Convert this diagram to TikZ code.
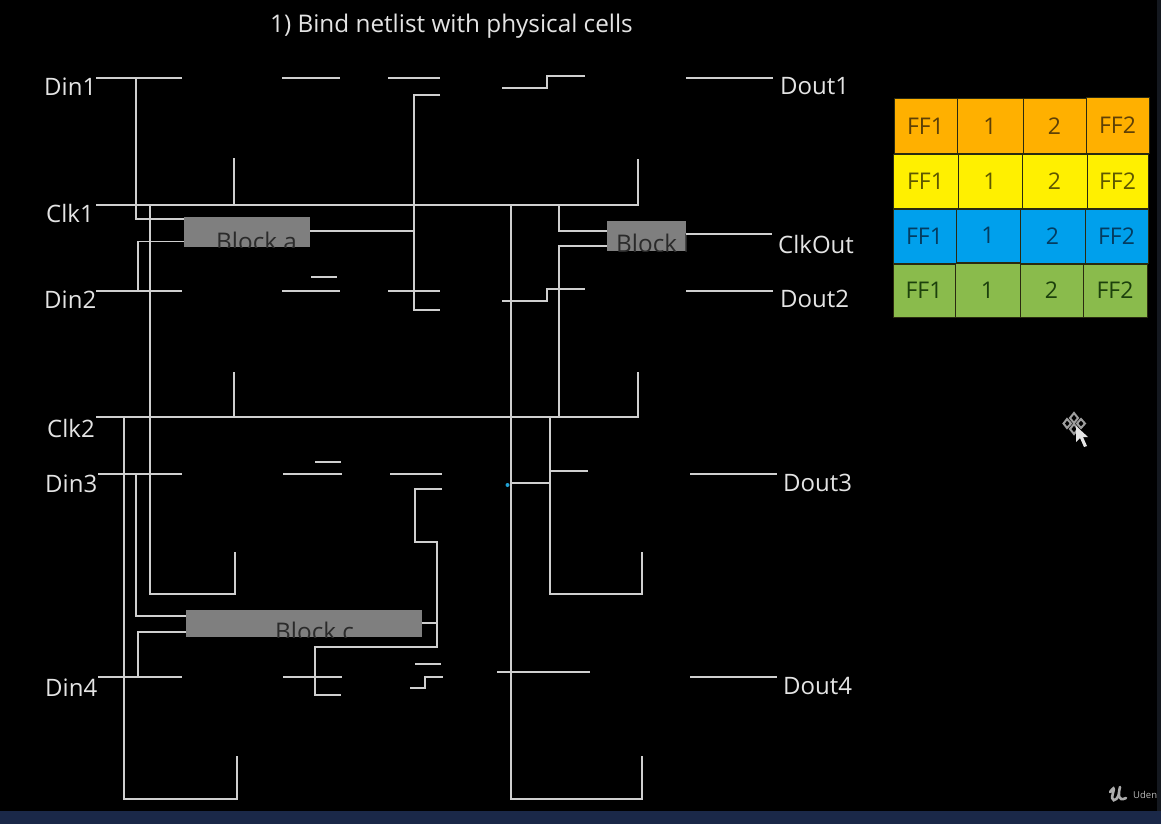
\documentclass[tikz,border=0pt]{standalone}
\usepackage{fontspec}
\setmainfont{Open Sans}
\tikzset{
  wire/.style={draw=wirecol,line width=1.7pt},
  lab/.style={text=labcol,font=\fontsize{24}{26}\selectfont,inner sep=0pt,anchor=base west},
  block/.style={fill=blockcol,draw=none,inner sep=0pt,anchor=north west},
  blocktext/.style={text=blocktxt,font=\fontsize{24.3}{26}\selectfont,inner sep=0pt,anchor=base west},
  cell/.style={draw=cellline,line width=1pt,inner sep=0pt,text=#1,font=\fontsize{23}{25}\selectfont},
}
\definecolor{wirecol}{HTML}{CFCFCF}
\definecolor{labcol}{HTML}{E4E4E4}
\definecolor{blockcol}{HTML}{7F7F7F}
\definecolor{blocktxt}{HTML}{2A2A2A}
\definecolor{cellline}{HTML}{2A2A10}
\definecolor{oran}{HTML}{FFB000}
\definecolor{yell}{HTML}{FFF000}
\definecolor{blu}{HTML}{00A0EC}
\definecolor{gree}{HTML}{8ABB4C}
\definecolor{orant}{HTML}{5E4006}
\definecolor{yellt}{HTML}{5E5800}
\definecolor{blut}{HTML}{043C60}
\definecolor{greet}{HTML}{1C400C}
\definecolor{barcol}{HTML}{1A2848}
\definecolor{stripcol}{HTML}{14181F}
% \cellbox{name}{x0}{y0}{x1}{y1}{text}{fill}{textcolour}
\newcommand{\cellbox}[8]{%
  \pgfmathsetlengthmacro{\cw}{#4-#2}\pgfmathsetlengthmacro{\ch}{#5-#3}%
  \node[cell=#8,fill=#7,minimum width=\cw,minimum height=\ch] (#1) at ({(#2+#4)/2},{(#3+#5)/2}) {#6};}
\begin{document}
\begin{tikzpicture}[x=1pt,y=-1pt]
\useasboundingbox (0,0) rectangle (1161,824);
\fill[black] (0,0) rectangle (1161,824);
\fill[stripcol] (1157,0) rectangle (1161,811);
\fill[barcol] (0,811) rectangle (1161,824);

% title and labels
\node[lab,font=\fontsize{24.3}{26}\selectfont] (title) at (270,33) {1) Bind netlist with physical cells};
\node[lab] (din1) at (44,96) {Din1};
\node[lab] (clk1) at (46,222) {Clk1};
\node[lab] (din2) at (44,308) {Din2};
\node[lab] (clk2) at (47,437) {Clk2};
\node[lab] (din3) at (45,492) {Din3};
\node[lab] (din4) at (45,696) {Din4};
\node[lab] (dout1) at (780,95) {Dout1};
\node[lab] (clkout) at (778,253) {ClkOut};
\node[lab] (dout2) at (780,307) {Dout2};
\node[lab] (dout3) at (783,491) {Dout3};
\node[lab] (dout4) at (783,694) {Dout4};

% blocks, their text cut by the box
\node[block,minimum width=126pt,minimum height=30pt] (blocka) at (184,217) {};
\node[block,minimum width=79pt,minimum height=30pt] (blockb) at (607,221) {};
\node[block,minimum width=236pt,minimum height=27pt] (blockc) at (186,610) {};
\begin{scope}
  \clip (blocka.north west) rectangle (blocka.south east);
  \node[blocktext] (ta) at (216,250) {Block a};
\end{scope}
\begin{scope}
  \clip (blockb.north west) rectangle (blockb.south east);
  \node[blocktext] (tb) at (616,252.5) {Block b};
\end{scope}
\begin{scope}
  \clip (blockc.north west) rectangle (blockc.south east);
  \node[blocktext] (tc) at (275,640) {Block c};
\end{scope}

% row 1
\draw[wire] (96,78) -- (182,78);
\draw[wire] (282,78) -- (340,78);
\draw[wire] (388,78) -- (440,78);
\draw[wire] (502,88) -- (547,88) -- (547,76) -- (585,76);
\draw[wire] (686,78) -- (773,78);
% row 2
\draw[wire] (96,291) -- (182,291);
\draw[wire] (282,291) -- (340,291);
\draw[wire] (311,277) -- (337,277);
\draw[wire] (388,291) -- (440,291);
\draw[wire] (502,301) -- (547,301) -- (547,289) -- (585,289);
\draw[wire] (686,291) -- (773,291);
% row 3
\draw[wire] (98,474) -- (182,474);
\draw[wire] (283,474) -- (342,474);
\draw[wire] (315,462) -- (341,462);
\draw[wire] (390,474) -- (442,474);
\draw[wire] (550,471) -- (588,471);
\draw[wire] (511,483) -- (550,483);
\draw[wire] (690,474) -- (777,474);
% row 4
\draw[wire] (98,677) -- (182,677);
\draw[wire] (283,677) -- (342,677);
\draw[wire] (415,664) -- (441,664);
\draw[wire] (410,688) -- (425,688) -- (425,677) -- (443,677);
\draw[wire] (497,672) -- (590,672);
\draw[wire] (690,677) -- (777,677);

% clock trees
\draw[wire] (234,158) -- (234,205);
\draw[wire] (96,205) -- (638,205) -- (638,159);
\draw[wire] (234,372) -- (234,417);
\draw[wire] (96,417) -- (638,417) -- (638,372);

% block a connections
\draw[wire] (136,78) -- (136,219) -- (blocka.west |- 136,219);
\draw[wire] (138,291) -- (138,241.5) -- (blocka.west |- 138,241.5);
\draw[wire] (blocka.east |- 312,231) -- (414,231);
\draw[wire] (440,95) -- (414,95) -- (414,310) -- (440,310);
% block b connections
\draw[wire] (559,205) -- (559,231) -- (blockb.west |- 559,231);
\draw[wire] (559,417) -- (559,246) -- (blockb.west |- 559,246);
\draw[wire] (blockb.east |- 686,234) -- (772,234);
% block c connections
\draw[wire] (136,474) -- (136,616) -- (blockc.west |- 136,616);
\draw[wire] (138,677) -- (138,632) -- (blockc.west |- 138,632);
\draw[wire] (blockc.east |- 422,623) -- (437,623);
\draw[wire] (442,489) -- (415,489) -- (415,542) -- (437,542) -- (437,647) -- (315,647) -- (315,695) -- (341,695);

% long feeds
\draw[wire] (150,205) -- (150,594) -- (235,594) -- (235,552);
\draw[wire] (124,417) -- (124,799) -- (237,799) -- (237,756);
\draw[wire] (511,205) -- (511,799) -- (642,799) -- (642,756);
\draw[wire] (550,417) -- (550,594) -- (642,594) -- (642,552);
\fill[cyan!70!teal] (507.5,485) circle (2);

% colour table
\cellbox{a1}{894}{99}{957}{153}{FF1}{oran}{orant}
\cellbox{a2}{957}{99}{1023}{153}{1}{oran}{orant}
\cellbox{a3}{1023}{99}{1086}{153}{2}{oran}{orant}
\cellbox{a4}{1086}{98}{1149}{153}{FF2}{oran}{orant}
\cellbox{b1}{893}{154}{958}{208}{FF1}{yell}{yellt}
\cellbox{b2}{958}{154}{1022}{208}{1}{yell}{yellt}
\cellbox{b3}{1022}{154}{1087}{208}{2}{yell}{yellt}
\cellbox{b4}{1087}{154}{1148}{208}{FF2}{yell}{yellt}
\cellbox{c1}{893}{209}{956}{263}{FF1}{blu}{blut}
\cellbox{c2}{956}{209}{1020}{262}{1}{blu}{blut}
\cellbox{c3}{1020}{209}{1085}{263}{2}{blu}{blut}
\cellbox{c4}{1085}{209}{1148}{263}{FF2}{blu}{blut}
\cellbox{d1}{893}{264}{955}{317}{FF1}{gree}{greet}
\cellbox{d2}{955}{263}{1020}{317}{1}{gree}{greet}
\cellbox{d3}{1020}{264}{1083}{317}{2}{gree}{greet}
\cellbox{d4}{1083}{264}{1147}{317}{FF2}{gree}{greet}

% pointer
\begin{scope}[draw=gray!75,line width=2pt]
  \draw (1074,413) -- (1078,418) -- (1074,423) -- (1070,418) -- cycle;
  \draw (1067,419) -- (1071,423.5) -- (1067,428) -- (1063.5,423.5) -- cycle;
  \draw (1081,419) -- (1085,423.5) -- (1081,428) -- (1077,423.5) -- cycle;
  \draw (1074,424) -- (1078,429) -- (1074,434) -- (1070,429) -- cycle;
\end{scope}
\fill[white!90!black] (1076,426) -- (1076,442) -- (1080,438) -- (1084,447) -- (1087,446) -- (1083,437) -- (1088,437) -- cycle;

% watermark
\draw[gray!65,line width=2.6pt,line cap=round] (1110,792) .. controls (1113,788) and (1115,786) .. (1113,793) .. controls (1110,802) and (1116,803) .. (1119,794);
\draw[gray!65,line width=2.6pt,line cap=round] (1120,787) .. controls (1118,795) and (1118,802) .. (1126,798);
\node[text=gray!55,font=\fontsize{9.5}{10}\selectfont,inner sep=0pt,anchor=base west] (uden) at (1133,798) {Uden};
\end{tikzpicture}
\end{document}
